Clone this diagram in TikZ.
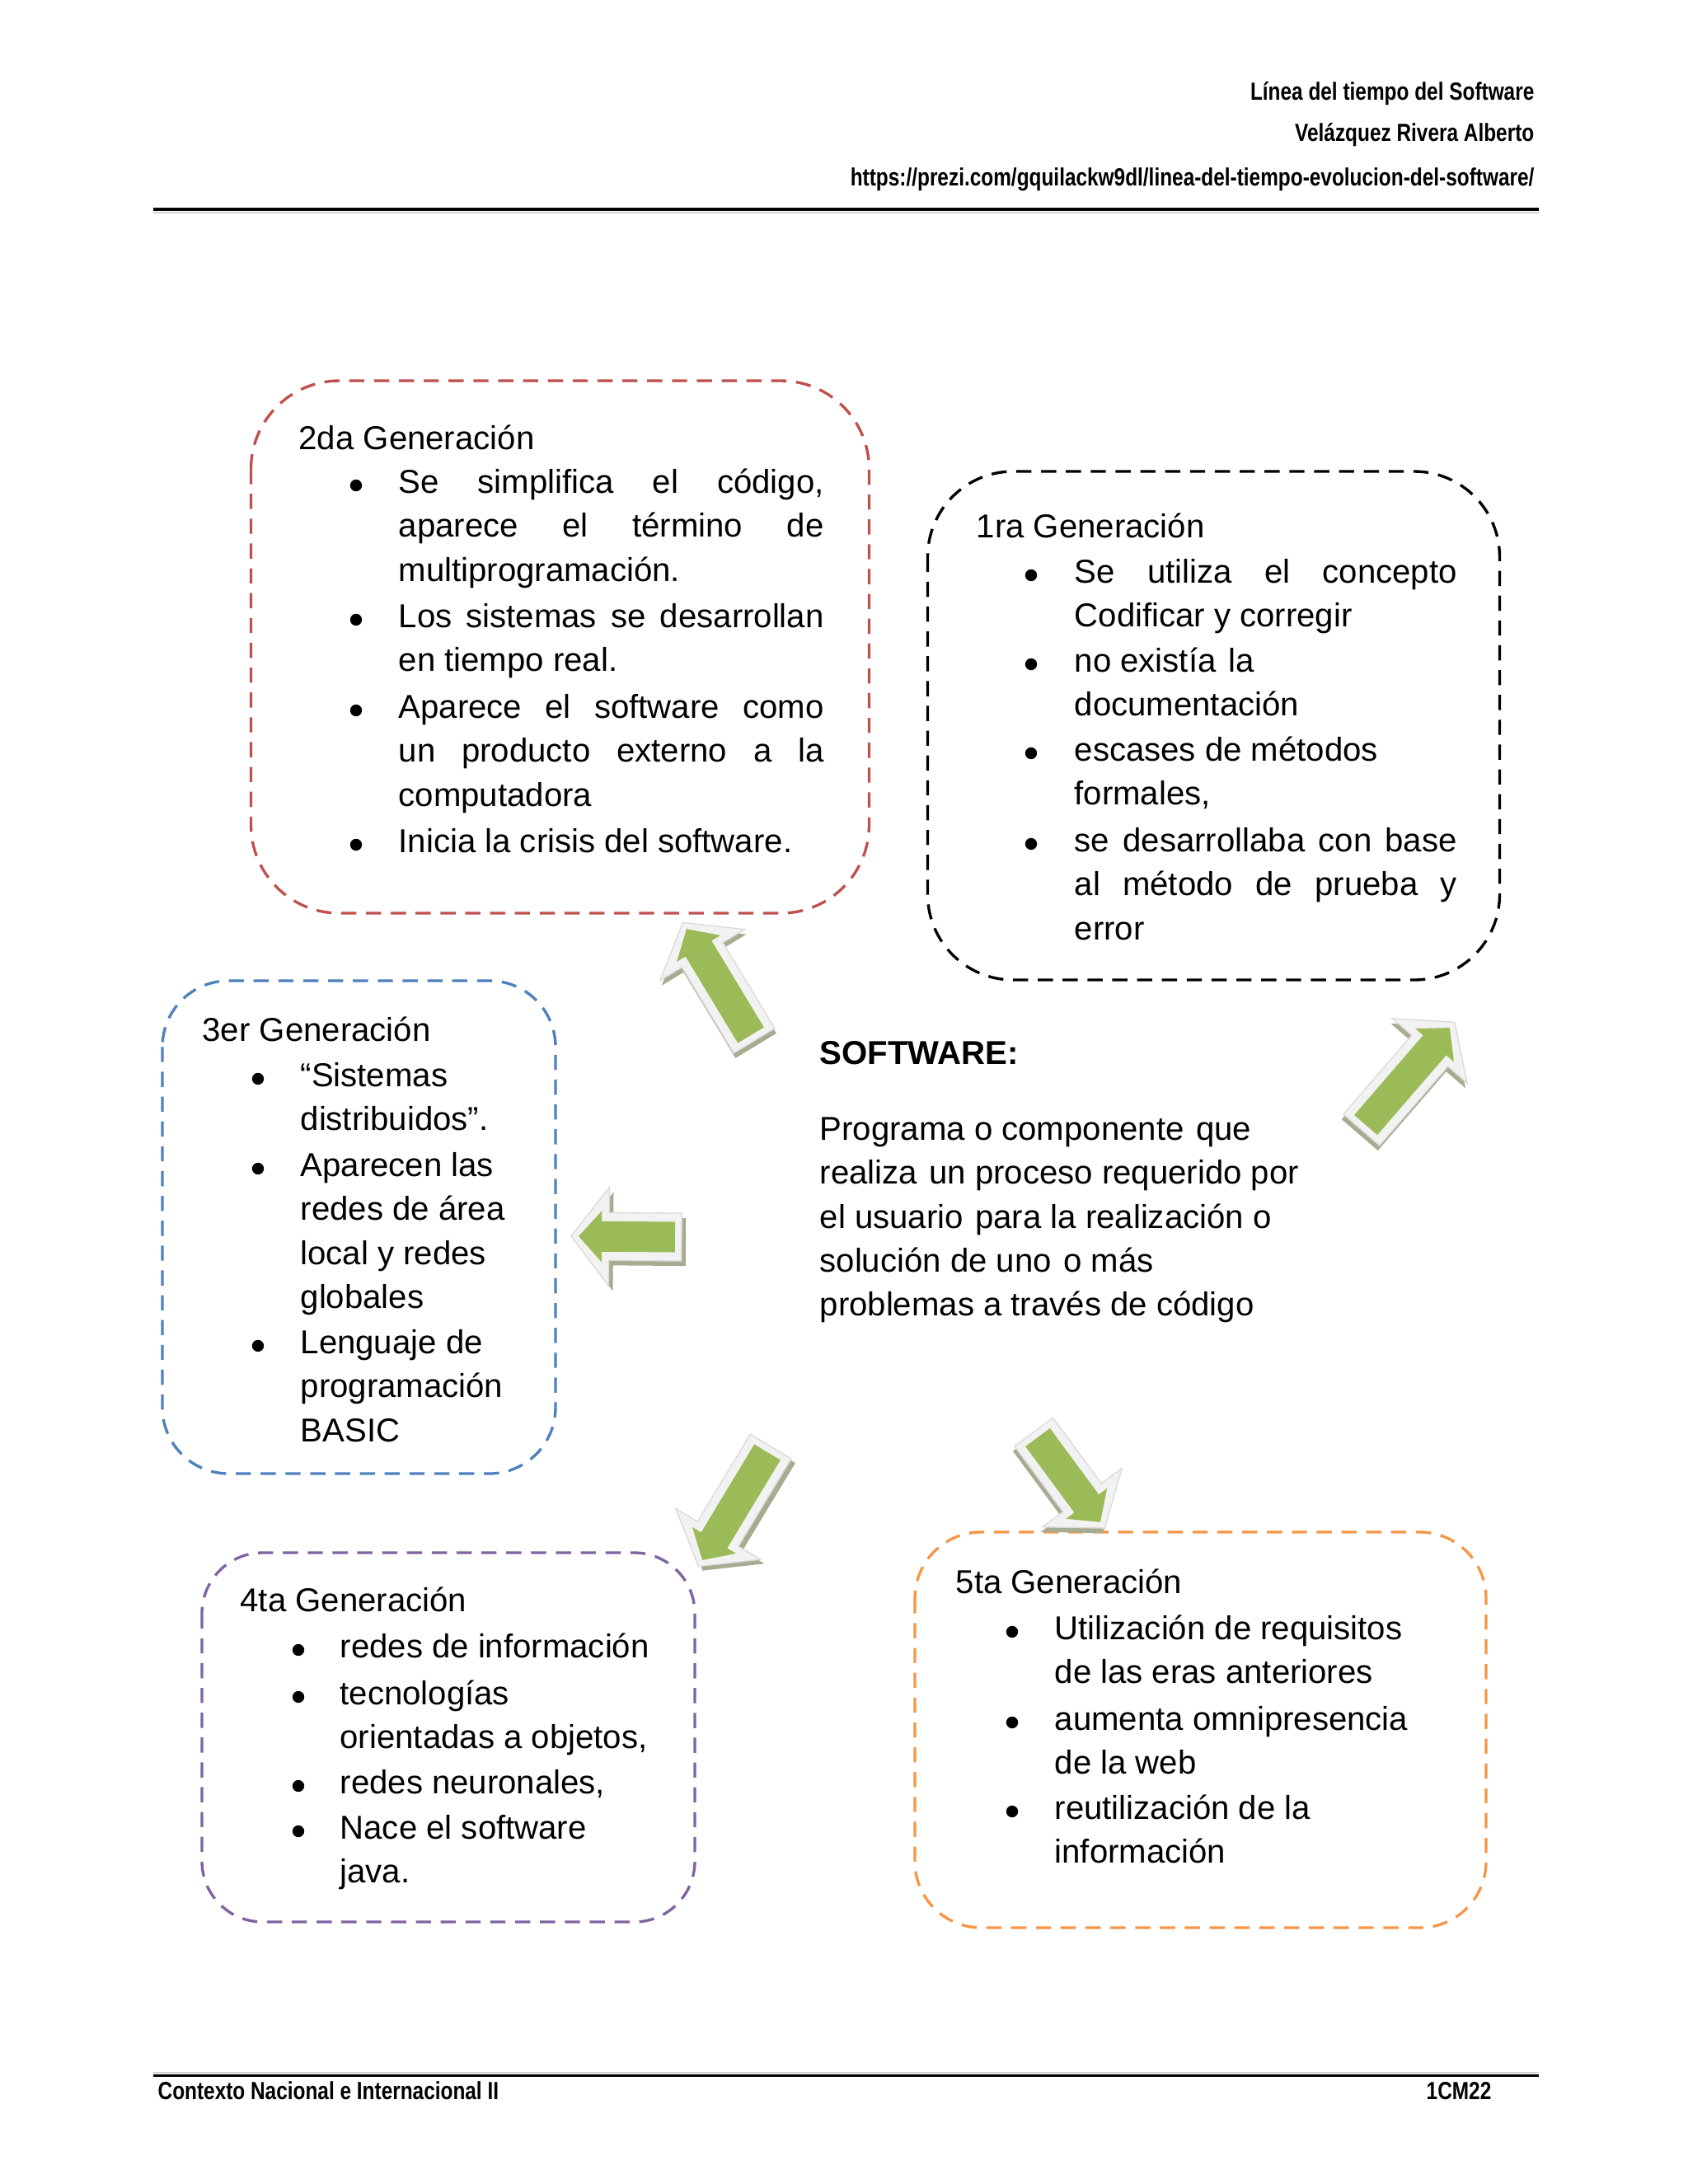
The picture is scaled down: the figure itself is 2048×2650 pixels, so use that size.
\documentclass[tikz,border=0pt]{standalone}
\usepackage{fontspec}
\setmainfont{Liberation Sans}
\newfontfamily\narrowfont[FakeStretch=0.81]{Liberation Sans}
\usetikzlibrary{calc}
\tolerance=10000 \hyphenpenalty=10000 \hbadness=10000
\definecolor{redb}{HTML}{C0504D}
\definecolor{blueb}{HTML}{4F81BD}
\definecolor{purpleb}{HTML}{8064A2}
\definecolor{orangeb}{HTML}{F79646}
\definecolor{arrgreen}{HTML}{9BBB59}
\definecolor{arrwhite}{HTML}{F2F2F2}
\definecolor{arrline}{HTML}{DADADA}
\definecolor{arrshadow}{HTML}{A7AB90}
\tikzset{
  genbox/.style={line width=1pt, dash pattern=on 5.5pt off 3.5pt, rounded corners=#1},
  ttl/.style={anchor=base west, inner sep=0pt, font=\fontsize{12}{15.9}\selectfont},
  itm/.style={anchor=north west, inner sep=0pt, yshift=11.13pt, align=justify, text width=#1, font=\fontsize{12}{15.9}\selectfont},
  bul/.style={circle, fill=black, inner sep=0pt, minimum size=4.3pt, yshift=2.7pt},
  hdr/.style={inner sep=0pt, font=\narrowfont\bfseries\fontsize{9}{11}\selectfont},
}
\newcommand\blockarrow[4]{%
  \path let \p1=($(#2)-(#1)$) in \pgfextra{%
    \pgfmathparse{atan2(\y1,\x1)}\xdef\arrang{\pgfmathresult}%
    \pgfmathparse{veclen(\x1,\y1)/0.29883}\xdef\arrlen{\pgfmathresult}%
  };
  \begin{scope}[shift={(#1)},shift={(#3,#4)},rotate=\arrang]
    \fill[arrshadow] (-8,-29) -- ({\arrlen-37},-29) -- ({\arrlen-37},-60) -- ({\arrlen+9},0) -- ({\arrlen-37},60) -- ({\arrlen-37},29) -- (-8,29) -- cycle;
  \end{scope}
  \begin{scope}[shift={(#1)},rotate=\arrang]
    \filldraw[fill=arrwhite, draw=arrline, line width=0.4pt] (-8,-29) -- ({\arrlen-37},-29) -- ({\arrlen-37},-60) -- ({\arrlen+9},0) -- ({\arrlen-37},60) -- ({\arrlen-37},29) -- (-8,29) -- cycle;
    \fill[arrgreen] (0,-18.5) -- ({\arrlen-28},-18.5) -- ({\arrlen-28},-31) -- (\arrlen,0) -- ({\arrlen-28},31) -- ({\arrlen-28},18.5) -- (0,18.5) -- cycle;
  \end{scope}
}
\begin{document}
\begin{tikzpicture}[x=0.29883pt,y=-0.29883pt]
\useasboundingbox (0,0) rectangle (2048,2650);
\fill[white] (0,0) rectangle (2048,2650);

% header
\node[hdr, anchor=base east] (h1) at (1862,121) {Línea del tiempo del Software};
\node[hdr, anchor=base east] (h2) at (1862,171) {Velázquez Rivera Alberto};
\node[hdr, anchor=base east] (h3) at (1862,225) {https://prezi.com/gquilackw9dl/linea-del-tiempo-evolucion-del-software/};
\draw[gray!35, line width=0.6pt] (186,257.5) -- (1867,257.5);
\draw[line width=1.1pt] (186,254) -- (1867,254);

% footer
\draw[gray!35, line width=0.6pt] (186,2515) -- (1867,2515);
\draw[line width=1.1pt] (186,2518.5) -- (1867,2518.5);
\node[hdr, anchor=base west] (f1) at (191,2547) {Contexto Nacional e Internacional II};
\node[hdr, anchor=base east] (f2) at (1810,2547) {1CM22};

% boxes
\draw[genbox=32pt, draw=redb] (304.5,462) rectangle (1054.5,1108);
\draw[genbox=31pt, draw=black] (1125.5,572) rectangle (1819.5,1189);
\draw[genbox=24pt, draw=blueb] (197,1190) rectangle (674,1788);
\draw[genbox=22pt, draw=purpleb] (245,1884) rectangle (843,2332);
\draw[genbox=24pt, draw=orangeb] (1110,1859) rectangle (1803,2339);

% 2da Generacion
\node[ttl] (g2) at (362,545) {2da Generación};
\node[bul] (g2b1) at (432,598) {};
\node[itm=154.2pt] (g2i1) at (483,598) {\strut Se simplifica el código,\linebreak aparece el término de\linebreak multiprogramación.};
\node[bul] (g2b2) at (432,761) {};
\node[itm=154.2pt] (g2i2) at (483,761) {\strut Los sistemas se desarrollan\linebreak en tiempo real.};
\node[bul] (g2b3) at (432,871) {};
\node[itm=154.2pt] (g2i3) at (483,871) {\strut Aparece el software como\linebreak un producto externo a la\linebreak computadora};
\node[bul] (g2b4) at (432,1034) {};
\node[itm=154.2pt] (g2i4) at (483,1034) {\strut Inicia la crisis del software.};

% 1ra Generacion
\node[ttl] (g1) at (1184,652) {1ra Generación};
\node[bul] (g1b1) at (1251,707) {};
\node[itm=138.7pt] (g1i1) at (1303,707) {\strut Se utiliza el concepto\linebreak Codificar y corregir};
\node[bul] (g1b2) at (1251,815) {};
\node[itm=138.7pt] (g1i2) at (1303,815) {\strut no existía\hspace{1.2pt} la\\documentación};
\node[bul] (g1b3) at (1251,923) {};
\node[itm=138.7pt] (g1i3) at (1303,923) {\strut escases de métodos\\formales,};
\node[bul] (g1b4) at (1251,1033) {};
\node[itm=138.7pt] (g1i4) at (1303,1033) {\strut se desarrollaba con base\linebreak al método de prueba y\linebreak error};

% 3er Generacion
\node[ttl] (g3) at (245,1263) {3er Generación};
\node[bul] (g3b1) at (313,1318) {};
\node[itm=90pt] (g3i1) at (364,1318) {\strut “Sistemas\\distribuidos”.};
\node[bul] (g3b2) at (313,1427) {};
\node[itm=90pt] (g3i2) at (364,1427) {\strut Aparecen las\\redes de área\\local y redes\\globales};
\node[bul] (g3b3) at (313,1642) {};
\node[itm=90pt] (g3i3) at (364,1642) {\strut Lenguaje de\\programación\\BASIC};

% 4ta Generacion
\node[ttl] (g4) at (291,1955) {4ta Generación};
\node[bul] (g4b1) at (362,2011) {};
\node[itm=125pt] (g4i1) at (412,2011) {\strut redes de información};
\node[bul] (g4b2) at (362,2068) {};
\node[itm=125pt] (g4i2) at (412,2068) {\strut tecnologías\\orientadas a objetos,};
\node[bul] (g4b3) at (362,2176) {};
\node[itm=125pt] (g4i3) at (412,2176) {\strut redes neuronales,};
\node[bul] (g4b4) at (362,2231) {};
\node[itm=125pt] (g4i4) at (412,2231) {\strut Nace el software\\java.};

% 5ta Generacion
\node[ttl] (g5) at (1159,1933) {5ta Generación};
\node[bul] (g5b1) at (1228,1989) {};
\node[itm=150pt] (g5i1) at (1279,1989) {\strut Utilización de requisitos\\de las eras anteriores};
\node[bul] (g5b2) at (1228,2099) {};
\node[itm=150pt] (g5i2) at (1279,2099) {\strut aumenta omnipresencia\\de la web};
\node[bul] (g5b3) at (1228,2207) {};
\node[itm=150pt] (g5i3) at (1279,2207) {\strut reutilización de la\\información};

% center text
\node[ttl, font=\bfseries\fontsize{12}{15.9}\selectfont] (sw) at (994,1291) {SOFTWARE:};
\node[itm=190pt] (swd) at (994,1383) {\strut Programa o componente\hspace{1pt} que\\realiza\hspace{1pt} un proceso requerido por\\el usuario\hspace{1pt} para la realización o\\solución de uno\hspace{1pt} o más\\problemas a través de código};

% arrows
\coordinate (a1t) at (911,1256); \coordinate (a1h) at (833,1127);
\coordinate (a2t) at (1657,1365); \coordinate (a2h) at (1759,1247);
\coordinate (a3t) at (819,1501); \coordinate (a3h) at (702,1500);
\coordinate (a4t) at (931,1762); \coordinate (a4h) at (852,1893);
\coordinate (a5t) at (1259,1744); \coordinate (a5h) at (1335,1847);
\blockarrow{a1t}{a1h}{2}{6}
\blockarrow{a2t}{a2h}{-2}{6}
\blockarrow{a3t}{a3h}{5}{6}
\blockarrow{a4t}{a4h}{5}{5}
\blockarrow{a5t}{a5h}{-2}{6}
\end{tikzpicture}
\end{document}
